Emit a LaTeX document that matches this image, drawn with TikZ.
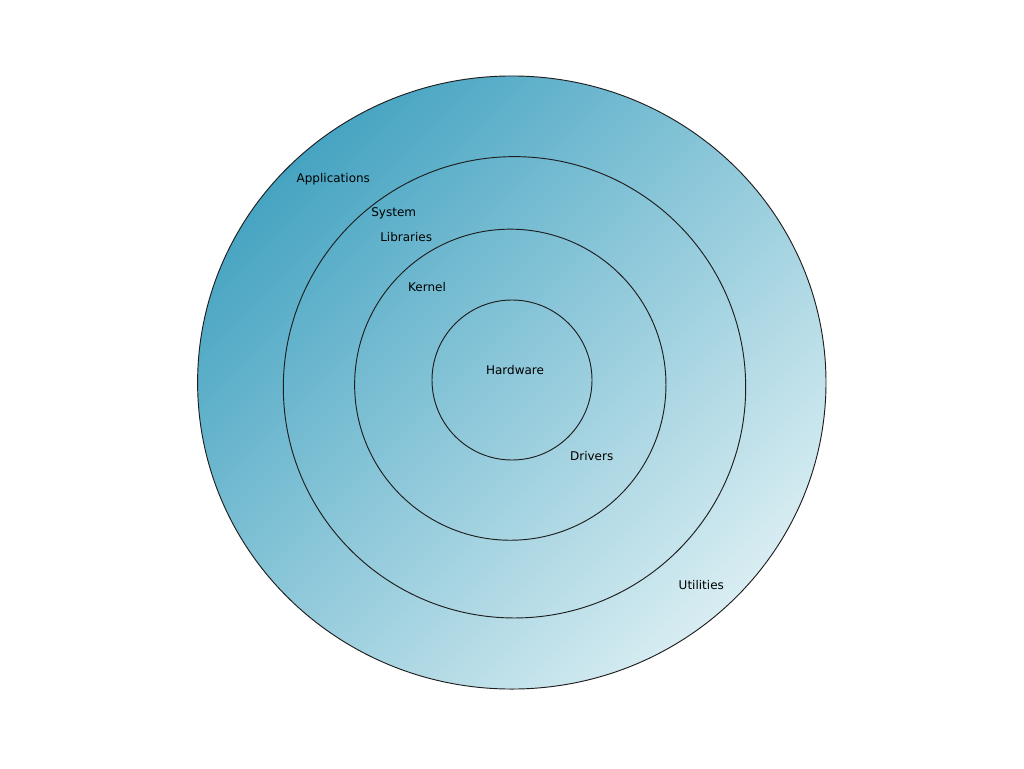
\documentclass[tikz,border=0pt]{standalone}
\usepackage{fontspec}
\setmainfont{DejaVu Sans}
\usepackage{tikz}
\usepackage{color}
\definecolor{deep-teal}{RGB}{70,164,194}
\definecolor{pale-teal}{RGB}{216,237,242}
\definecolor{ring-line}{RGB}{30,30,30}
\usetikzlibrary{shapes.geometric}

\begin{document}
\begin{tikzpicture}[x=0.75pt, y=-0.75pt,
    ring/.style={draw=ring-line, line width=0.7pt, ellipse, inner sep=0pt},
    tag/.style={anchor=base, inner sep=0pt, font=\fontsize{9}{10}\selectfont}]
    \useasboundingbox (0,0) rectangle (1024,768);

    % rings, outside in
    \node[ring, minimum width=471.3pt, minimum height=459.8pt,
          top color=deep-teal, bottom color=pale-teal, shading angle=45] (apps) at (511.8,382.5) {};
    \node[ring, minimum width=346.8pt, minimum height=346pt] (syslib) at (514.5,387.3) {};
    \node[ring, minimum width=233.5pt, minimum height=233.3pt] (kernel) at (510.3,384.7) {};
    \node[ring, minimum width=120pt, minimum height=120pt] (hw) at (512,380) {};

    % ring names
    \node[tag] (apps-tag) at (333.3,182.7) {Applications};
    \node[tag] (sys-tag) at (393.7,216.7) {System};
    \node[tag] (lib-tag) at (406.2,241.7) {Libraries};
    \node[tag] (kernel-tag) at (427,291.7) {Kernel};
    \node[tag] (hw-tag) at (515,374) {Hardware};
    \node[tag] (drv-tag) at (591.7,460.7) {Drivers};
    \node[tag] (util-tag) at (701.3,589.3) {Utilities};
\end{tikzpicture}
\end{document}
